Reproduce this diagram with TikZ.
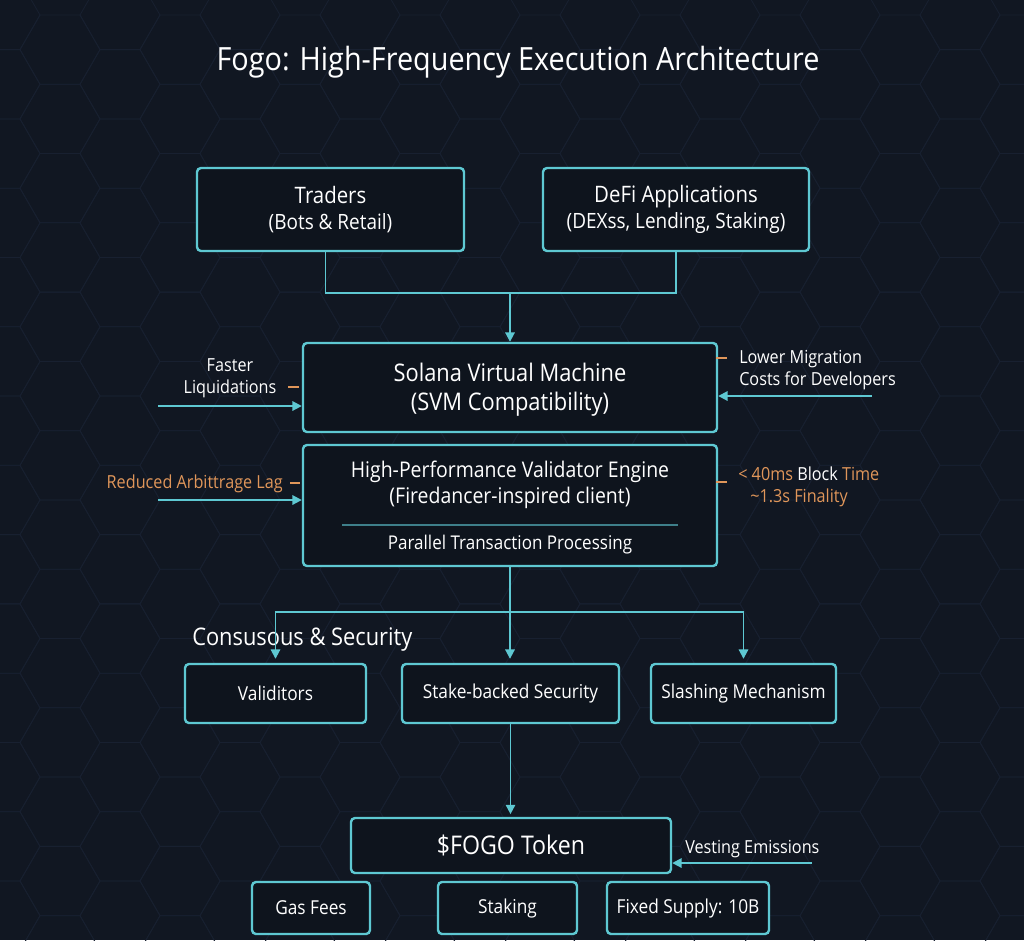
\documentclass[tikz,border=0pt]{standalone}
\usepackage{fontspec}
\setmainfont[FakeStretch=0.9]{Open Sans}
\usetikzlibrary{arrows.meta}

\definecolor{bgnavy}{HTML}{111722}
\definecolor{hexline}{HTML}{182030}
\definecolor{boxfill}{HTML}{0E141D}
\definecolor{cyanline}{HTML}{5EC8D2}
\definecolor{accent}{HTML}{E0965A}
\definecolor{sepline}{HTML}{3E7F8A}

\tikzset{
  box/.style={draw=cyanline, line width=1.8pt, fill=boxfill, rounded corners=3pt,
    text=white, align=center, inner sep=0pt},
  link/.style={draw=cyanline, line width=1.4pt},
  arr/.style={link, -{Triangle[length=7pt,width=7pt]}},
  txt/.style={text=white, inner sep=0pt},
  big/.style={font=\fontsize{18.2}{21.5}\selectfont},
  mid/.style={font=\fontsize{16.2}{19.5}\selectfont},
  side/.style={font=\fontsize{13.5}{16.5}\selectfont},
  sml/.style={font=\fontsize{14.4}{17}\selectfont}
}

\begin{document}
\begin{tikzpicture}[x=0.75pt,y=-0.75pt]
        \fill[bgnavy] (0,0) rectangle (1024,940);
        \begin{scope}
        \clip (0,0) rectangle (1024,940);
        \foreach \i in {0,...,26} {
          \foreach \j in {0,...,14} {
            \pgfmathsetmacro{\cx}{\i*60}
            \pgfmathsetmacro{\cy}{\j*69.28+mod(\i,2)*34.64+15}
            \draw[hexline, line width=0.6pt] (\cx,\cy) +(0:40) -- +(60:40) -- +(120:40)
              -- +(180:40) -- +(240:40) -- +(300:40) -- cycle;
          }
        }
        \end{scope}

        \node[txt, font=\fontsize{24}{28}\selectfont] (title) at (518,62) {Fogo: High-Frequency Execution Architecture};

        \node[box, font=\fontsize{17}{19}\selectfont, minimum width=200.25pt, minimum height=62.25pt] (traders) at (330.5,209.5)
          {Traders\\{\fontsize{15.8}{19}\selectfont(Bots \& Retail)}};
        \node[box, font=\fontsize{17}{19}\selectfont, minimum width=199.5pt, minimum height=62.25pt] (defi) at (676,209.5)
          {DeFi Applications\\{\fontsize{15.8}{19}\selectfont(DEXss, Lending, Staking)}};
        \coordinate (join) at (510,293);
        \draw[link] ([xshift=-3.75pt]traders.south) |- (join) -| (defi.south);

        \node[box, minimum width=310.5pt, minimum height=66.75pt] (svm) at (510,387.5) {};
        \node[txt, big, align=center] (svmtext) at (510,390) {Solana Virtual Machine\\(SVM Compatibility)};
        \draw[arr] (join) -- (svm.north);

        \node[box, minimum width=310.5pt, minimum height=90.75pt] (engine) at (510,505.5) {};
        \node[txt, mid] (engtop) at (510,472) {High-Performance Validator Engine};
        \node[txt, mid] (engsub) at (510,498) {(Firedancer-inspired client)};
        \draw[sepline, line width=1pt] (342,525) -- (678,525);
        \node[txt, font=\fontsize{14.2}{17}\selectfont] (parallel) at (510,545) {Parallel Transaction Processing};

        \node[txt, side, align=center] (faster) at (230,378) {Faster\\Liquidations};
        \draw[accent, line width=1.4pt] (288,387) -- (299,387);
        \coordinate (fasterin) at (158,406);
        \draw[arr] (fasterin) -- (fasterin -| svm.west);

        \node[txt, side, align=left, anchor=west] (migration) at (739,370) {Lower Migration\\Costs for Developers};
        \draw[accent, line width=1.4pt] (716,358) -- (727,358);
        \coordinate (migrationin) at (872,396);
        \draw[arr] (migrationin) -- (migrationin -| svm.east);

        \node[txt, side, text=accent, anchor=east] (arbitrage) at (283,484) {Reduced Arbittrage Lag};
        \draw[accent, line width=1.4pt] (290,483) -- (300,483);
        \coordinate (arbitragein) at (158,500);
        \draw[arr] (arbitragein) -- (arbitragein -| engine.west);

        \node[txt, side, anchor=west] (blocktime) at (738,474)
          {{\color{accent}< 40ms} Block {\color{accent}Time}};
        \node[txt, side, text=accent, anchor=west] (finality) at (750,498) {\textasciitilde1.3s Finality};
        \draw[accent, line width=1.4pt] (716,482) -- (727,482);

        \node[txt, font=\fontsize{18.2}{21}\selectfont, anchor=west] (consensus) at (192,639) {Consusous \& Security};
        \node[box, sml, minimum width=135.75pt, minimum height=44.25pt] (valid) at (275.5,693.5) {Validitors};
        \node[box, sml, minimum width=162.75pt, minimum height=44.25pt] (stake) at (510.5,693.5) {Stake-backed Security};
        \node[box, sml, minimum width=138.75pt, minimum height=44.25pt] (slash) at (743.5,693.5) {Slashing Mechanism};
        \coordinate (split) at (510,612);
        \draw[link] (engine.south) -- (split);
        \draw[arr, shorten >=3pt] (split) -| (valid.north);
        \draw[arr, shorten >=3pt] (split) -| (slash.north);
        \draw[arr, shorten >=3pt] (split) -- (split |- stake.north);

        \node[box, font=\fontsize{19.3}{23}\selectfont, minimum width=240pt, minimum height=41.25pt] (token) at (511,845.5) {\$FOGO Token};
        \draw[arr, shorten >=2pt] (stake.south) -- (stake.south |- token.north);
        \node[txt, side, anchor=west] (vesting) at (685,849) {Vesting Emissions};
        \coordinate (vestingin) at (812,863);
        \draw[arr] (vestingin) -- (vestingin -| token.east);

        \node[box, sml, minimum width=88.5pt, minimum height=39pt] (gas) at (311,908) {Gas Fees};
        \node[box, sml, minimum width=104.25pt, minimum height=39pt] (staking) at (507.5,908) {Staking};
        \node[box, sml, minimum width=121.5pt, minimum height=39pt] (supply) at (688,908) {Fixed Supply: 10B};
    \end{tikzpicture}
\end{document}
